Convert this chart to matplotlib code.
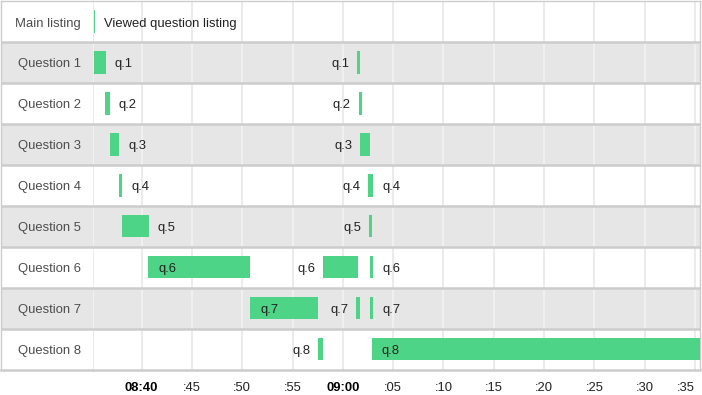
import matplotlib
matplotlib.use("Agg")
import matplotlib.pyplot as plt

# rows of the timeline, top to bottom
ROWS = ["Main listing", "Question 1", "Question 2", "Question 3", "Question 4",
        "Question 5", "Question 6", "Question 7", "Question 8"]

# one entry per bar
BAR_ROW = [0, 1, 1, 2, 2, 3, 3, 4, 4, 4, 5, 5, 6, 6, 6, 7, 7, 7, 8, 8]
BAR_LABEL = ["Viewed question listing", "q.1", "q.1", "q.2", "q.2", "q.3", "q.3",
             "q.4", "q.4", "q.4", "q.5", "q.5", "q.6", "q.6", "q.6",
             "q.7", "q.7", "q.7", "q.8", "q.8"]
BAR_START = ["08:35:17", "08:35:18", "09:01:26", "08:36:23", "09:01:34",
             "08:36:49", "09:01:44", "08:37:45", "09:02:30", "09:02:45",
             "08:38:04", "09:02:36", "08:40:40", "08:58:03", "09:02:40",
             "08:50:48", "09:01:20", "09:02:42", "08:57:34", "09:02:52"]
BAR_END = ["08:35:23", "08:36:26", "09:01:44", "08:36:51", "09:01:52",
           "08:37:46", "09:02:42", "08:38:04", "09:02:45", "09:03:00",
           "08:40:42", "09:02:55", "08:50:48", "09:01:28", "09:03:00",
           "08:57:32", "09:01:40", "09:03:01", "08:58:03", "09:35:32"]
LABEL_SIDE = ["right", "right", "left", "right", "left", "right", "left",
              "right", "left", "right", "right", "left", "in", "left", "right",
              "in", "left", "right", "left", "in"]

DOMAIN = ("08:35:08", "09:35:32")
TICKS = ["08:40", "08:45", "08:50", "08:55", "09:00", "09:05", "09:10",
         "09:15", "09:20", "09:25", "09:30", "09:35"]
TICK_LABELS = ["08:40", ":45", ":50", ":55", "09:00", ":05", ":10",
               ":15", ":20", ":25", ":30", ":35"]
BOLD_TICKS = ["08:40", "09:00"]


def minutes(s):
    parts = [int(p) for p in s.split(":")]
    while len(parts) < 3:
        parts.append(0)
    return parts[0] * 60 + parts[1] + parts[2] / 60.0


GREEN = "#4dd486"
BAND = "#e6e6e6"
LINE = "#cccccc"
FONT = "Liberation Sans"
FS = 9.4
DY = -1.5  # nudge text down to sit centred like the original

plt.rcParams["font.family"] = [FONT, "DejaVu Sans"]

W, H = 702, 395
fig = plt.figure(figsize=(W / 100, H / 100), dpi=100)
top, bot = 1.0, 369.5
xl, xs, xr = 1.0, 92.7, 700.3
ax_lab = fig.add_axes([xl / W, 1 - bot / H, (xs - xl) / W, (bot - top) / H])
ax = fig.add_axes([xs / W, 1 - bot / H, (xr - xs) / W, (bot - top) / H])

x0, x1 = minutes(DOMAIN[0]), minutes(DOMAIN[1])
n = len(ROWS)
for a in (ax_lab, ax):
    a.set_ylim(n - 0.5, -0.5)
    a.set_yticks([])
    for i in range(n):
        a.axhspan(i - 0.5, i + 0.5, color=BAND if i % 2 else "white", lw=0, zorder=0)
    for i in range(n - 1):
        a.axhline(i + 0.5, color=LINE, lw=1.8, zorder=2)
    for side, sp in a.spines.items():
        sp.set_color(LINE)
        sp.set_linewidth(1.0)
    a.spines["bottom"].set_linewidth(1.8)

ax_lab.set_xlim(0, 1)
ax_lab.set_xticks([])
ax_lab.spines["right"].set_visible(False)
for i, name in enumerate(ROWS):
    ax_lab.annotate(name, (1, i), xytext=(-8.5, DY), textcoords="offset points",
                    ha="right", va="center", fontsize=FS, color="#4d4d4d")

ax.set_xlim(x0, x1)
ax.spines["left"].set_visible(False)
tick_x = [minutes(t) for t in TICKS]
grid_x = [x0] + tick_x
for i in range(n):
    ax.vlines(grid_x, i - 0.5, i + 0.5, color="#f4f4f4" if i % 2 else "#e6e6e6",
              lw=1.1, zorder=1)

ax.set_xticks(tick_x)
ax.set_xticklabels(TICK_LABELS)
ax.tick_params(axis="x", length=0, pad=9.2, labelsize=FS, colors="#222222")
xt = ax.get_xticklabels()
for lbl, t in zip(xt, TICKS):
    if t in BOLD_TICKS:
        lbl.set_fontweight("bold")
        lbl.set_color("black")
xt[-1].set_horizontalalignment("right")  # keep last label inside the chart

for r, lab, s, e, side in zip(BAR_ROW, BAR_LABEL, BAR_START, BAR_END, LABEL_SIDE):
    s, e = minutes(s), minutes(e)
    ax.barh(r, e - s, left=s, height=0.55, color=GREEN, lw=0, zorder=3)
    if side == "in":
        pos, dx, ha = s, 7.0, "left"
    elif side == "right":
        pos, dx, ha = e, 6.5, "left"
    else:
        pos, dx, ha = s, -5.5, "right"
    ax.annotate(lab, (pos, r), xytext=(dx, DY), textcoords="offset points",
                ha=ha, va="center", fontsize=FS, color="#222222", zorder=4)

fig.savefig("out.png", dpi=100)
